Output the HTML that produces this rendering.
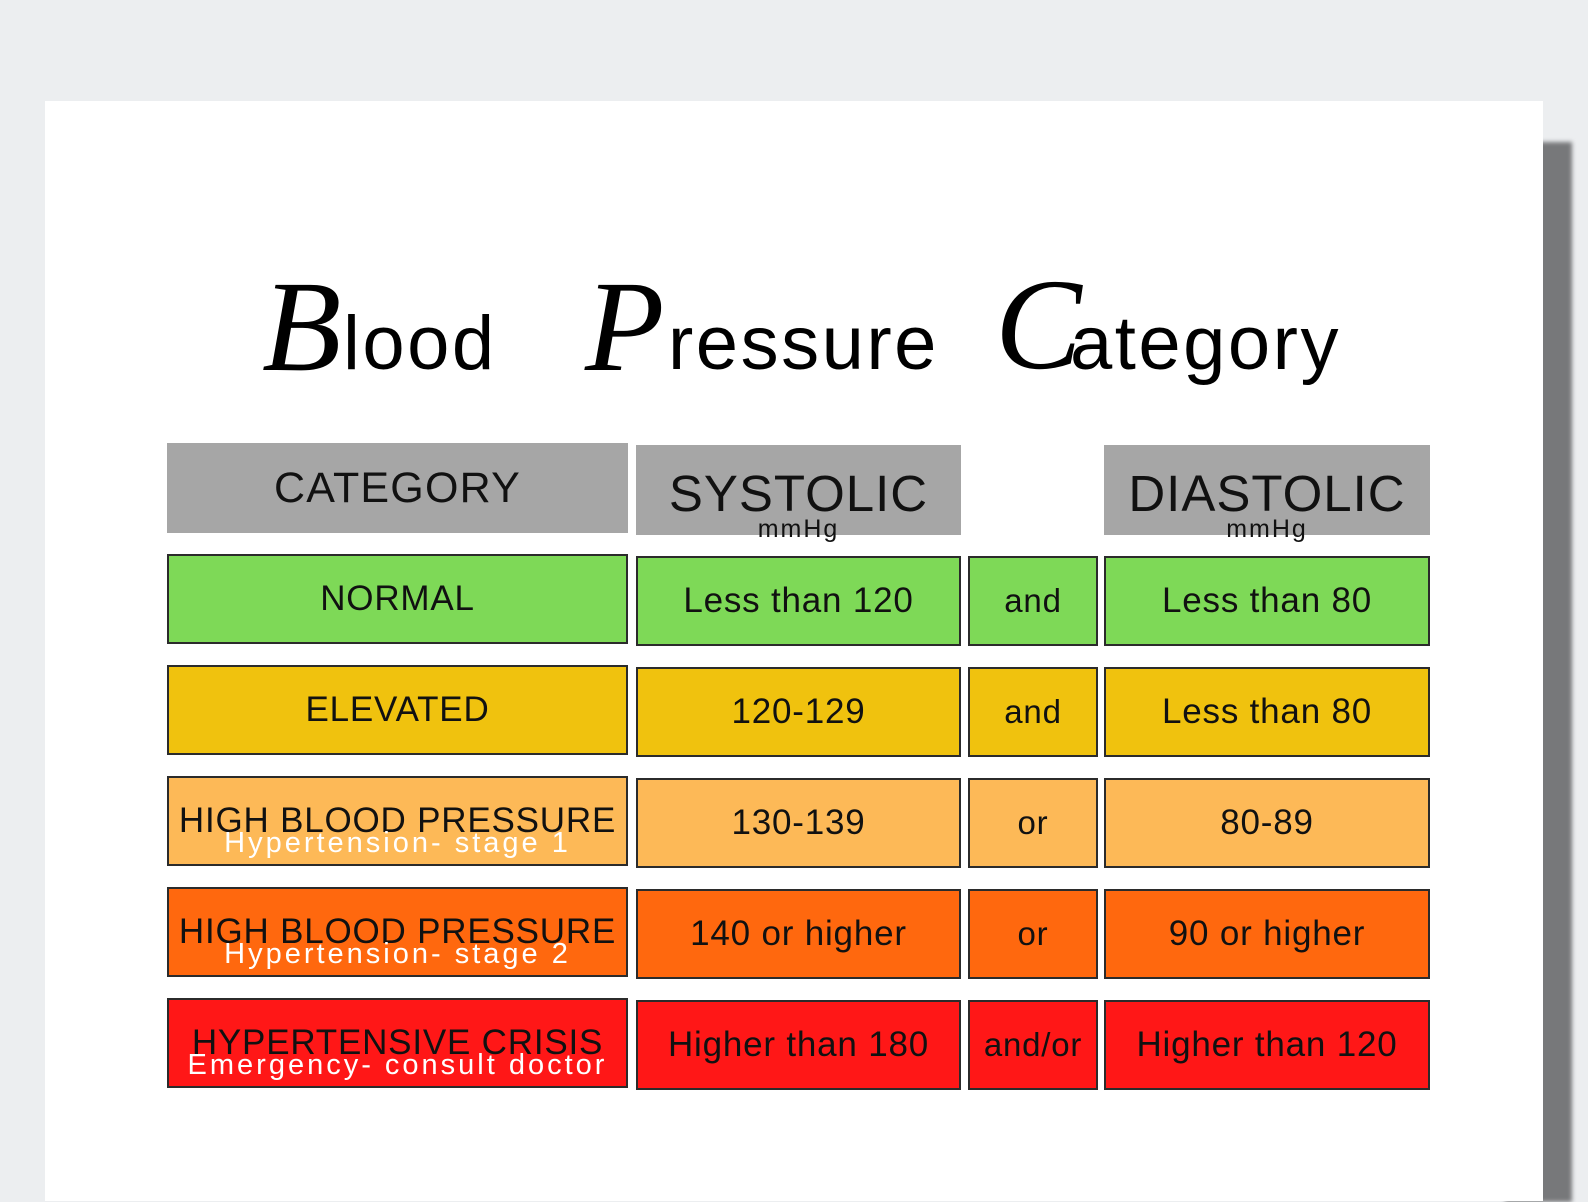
<!DOCTYPE html>
<html><head><meta charset="utf-8"><style>
html,body{margin:0;padding:0;width:1588px;height:1191px;overflow:hidden;background:#eceef0;font-family:"Liberation Sans",sans-serif;}
#shadow{position:absolute;left:1505px;top:142px;width:67px;height:1060px;background:#77787a;filter:blur(2px);}
#page{position:absolute;left:45px;top:101px;width:1498px;height:1100px;background:#fff;}
.t{position:absolute;top:0;white-space:nowrap;}
.cell{position:absolute;box-sizing:border-box;display:flex;flex-direction:column;align-items:center;justify-content:center;color:#111;text-align:center;white-space:nowrap;}
.b{border:2px solid #2b2b2b;}
.main{font-size:35px;line-height:36px;letter-spacing:0.8px;}
.sub{font-size:29px;line-height:24px;color:#fff;letter-spacing:3px;margin-top:-8px;}
.hdr{background:#a6a6a6;}
.lw{font-size:76px;letter-spacing:2.5px;}
</style></head><body>
<div id="shadow"></div>
<div id="page"></div>
<div style="position:absolute;left:0;top:0;width:1588px;height:420px;">
  <span class="t" style="left:262px;top:252px;font:italic 130px 'Liberation Serif',serif;">B</span>
  <span class="t lw" style="left:343px;top:300px;">lood</span>
  <span class="t" style="left:585px;top:252px;font:italic 130px 'Liberation Serif',serif;">P</span>
  <span class="t lw" style="left:668px;top:300px;">ressure</span>
  <span class="t" style="left:995px;top:250px;font:italic 130px 'Liberation Serif',serif;">C</span>
  <span class="t lw" style="left:1070px;top:300px;">ategory</span>
</div>
<div id="tbl"></div>
<script>
const categories=["NORMAL","ELEVATED","HIGH BLOOD PRESSURE","HIGH BLOOD PRESSURE","HYPERTENSIVE CRISIS"];
const subtitles=["","","Hypertension- stage 1","Hypertension- stage 2","Emergency- consult doctor"];
const systolic=["Less than 120","120-129","130-139","140 or higher","Higher than 180"];
const connectors=["and","and","or","or","and/or"];
const diastolic=["Less than 80","Less than 80","80-89","90 or higher","Higher than 120"];
const colors=["#7ed957","#f0c20e","#fdb957","#ff680e","#ff1717"];
const tbl=document.getElementById('tbl');
function cell(x,y,w,h,cls,bg,html,name){
  const d=document.createElement('div');
  d.className='cell '+cls;
  d.style.left=x+'px';d.style.top=y+'px';d.style.width=w+'px';d.style.height=h+'px';
  if(bg)d.style.background=bg;
  d.innerHTML=html;
  
  
  tbl.appendChild(d);return d;
}
const cols=[[167,461],[636,325],[968,130],[1104,326]];
cell(167,443,461,90,'hdr',null,'<div style="font-size:43px;line-height:44px;letter-spacing:1.2px">CATEGORY</div>','header-category');
cell(636,445,325,90,'hdr',null,'<div style="font-size:51px;line-height:50px;margin-top:28px;letter-spacing:1px">SYSTOLIC</div><div style="font-size:25px;line-height:20px;letter-spacing:2px">mmHg</div>','header-systolic');
cell(1104,445,326,90,'hdr',null,'<div style="font-size:51px;line-height:50px;margin-top:28px;letter-spacing:1px">DIASTOLIC</div><div style="font-size:25px;line-height:20px;letter-spacing:2px">mmHg</div>','header-diastolic');
for(let i=0;i<categories.length;i++){
  const y=554+i*110.9, h=90;
  let c='<div class="main">'+categories[i]+'</div>';
  if(subtitles[i]) c='<div class="main" style="margin-top:16px">'+categories[i]+'</div><div class="sub">'+subtitles[i]+'</div>';
  cell(cols[0][0],y,cols[0][1],h,'b',colors[i],c,'category-cell-'+(i+1));
  cell(cols[1][0],y+2,cols[1][1],h,'b',colors[i],'<div class="main">'+systolic[i]+'</div>','systolic-cell-'+(i+1));
  cell(cols[2][0],y+2,cols[2][1],h,'b',colors[i],'<div class="main" style="font-size:33px">'+connectors[i]+'</div>','connector-cell-'+(i+1));
  cell(cols[3][0],y+2,cols[3][1],h,'b',colors[i],'<div class="main">'+diastolic[i]+'</div>','diastolic-cell-'+(i+1));
}
</script>
</body></html>
